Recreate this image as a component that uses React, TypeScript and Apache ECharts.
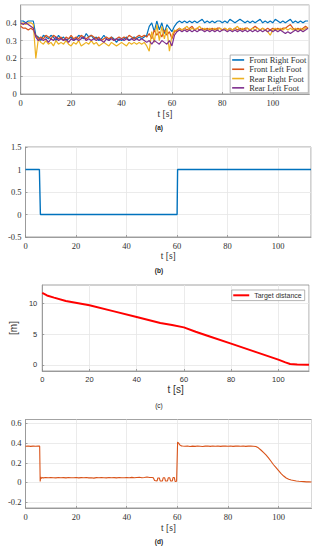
import React, { useEffect, useRef } from "react";
import * as echarts from "echarts";

// ---------- Panel (a): foot signals, sampled every second from t = 0 s ----------
const footStep = 1;
const footNames = ["Front Right Foot", "Front Left Foot", "Rear Right Foot", "Rear Left Foot"];
const frontRightFoot = [
  0.41, 0.41, 0.40, 0.41, 0.41, 0.41, 0.33,
  0.32, 0.30, 0.33, 0.32, 0.31, 0.33, 0.32, 0.30, 0.33, 0.31,
  0.32, 0.30, 0.31, 0.32, 0.30, 0.31, 0.33, 0.32, 0.31, 0.34,
  0.32, 0.33, 0.31, 0.32, 0.30, 0.31, 0.33, 0.31, 0.30, 0.32,
  0.31, 0.29, 0.31, 0.30, 0.31, 0.32, 0.30, 0.31, 0.32, 0.31,
  0.32, 0.31, 0.32,
  0.33, 0.38, 0.40, 0.35, 0.41, 0.36, 0.40, 0.34, 0.39, 0.37, 0.35,
  0.38, 0.40, 0.41,
  0.40, 0.41, 0.40, 0.41, 0.40, 0.41, 0.40, 0.41, 0.42, 0.40,
  0.41, 0.40, 0.41, 0.40, 0.41, 0.41, 0.40, 0.41, 0.40, 0.42,
  0.41, 0.40, 0.41, 0.42, 0.41, 0.40, 0.41, 0.40, 0.41, 0.40,
  0.41, 0.42, 0.40, 0.41, 0.40, 0.41, 0.40, 0.42, 0.41, 0.40,
  0.41, 0.40, 0.41, 0.42, 0.40, 0.41, 0.40, 0.41, 0.40, 0.41, 0.41,
];
const frontLeftFoot = [
  0.38, 0.37, 0.37, 0.36, 0.37, 0.36, 0.33,
  0.31, 0.32, 0.31, 0.33, 0.32, 0.31, 0.33, 0.32, 0.31, 0.32,
  0.30, 0.32, 0.31, 0.33, 0.31, 0.32, 0.31, 0.33, 0.32, 0.31,
  0.32, 0.33, 0.32, 0.31, 0.32, 0.30, 0.31, 0.32, 0.31, 0.32,
  0.30, 0.31, 0.32, 0.31, 0.32, 0.31, 0.33, 0.32, 0.31, 0.32,
  0.33, 0.32, 0.33,
  0.32, 0.34, 0.31, 0.36, 0.33, 0.35, 0.32, 0.36, 0.33, 0.35, 0.31,
  0.35, 0.36, 0.37,
  0.36, 0.37, 0.36, 0.37, 0.38, 0.36, 0.37, 0.36, 0.37, 0.36,
  0.37, 0.36, 0.37, 0.36, 0.37, 0.37, 0.36, 0.37, 0.36, 0.37,
  0.36, 0.37, 0.36, 0.37, 0.36, 0.37, 0.37, 0.36, 0.37, 0.38,
  0.37, 0.36, 0.37, 0.36, 0.37, 0.36, 0.37, 0.36, 0.37, 0.36,
  0.37, 0.37, 0.38, 0.39, 0.37, 0.36, 0.37, 0.36, 0.37, 0.38, 0.37,
];
const rearRightFoot = [
  0.39, 0.40, 0.39, 0.40, 0.40, 0.39, 0.20,
  0.31, 0.29, 0.28, 0.30, 0.28, 0.29, 0.27, 0.30, 0.28, 0.29,
  0.28, 0.30, 0.28, 0.27, 0.29, 0.28, 0.30, 0.27, 0.28, 0.29,
  0.28, 0.30, 0.28, 0.29, 0.27, 0.28, 0.29, 0.28, 0.27, 0.29,
  0.28, 0.27, 0.28, 0.29, 0.28, 0.27, 0.29, 0.28, 0.29, 0.28,
  0.29, 0.28, 0.29,
  0.27, 0.24, 0.35, 0.29, 0.39, 0.30, 0.38, 0.31, 0.37, 0.24, 0.33,
  0.36, 0.35, 0.37,
  0.36, 0.37, 0.38, 0.36, 0.37, 0.36, 0.37, 0.38, 0.36, 0.37,
  0.36, 0.37, 0.36, 0.37, 0.36, 0.37, 0.36, 0.37, 0.36, 0.37,
  0.36, 0.37, 0.38, 0.36, 0.37, 0.36, 0.37, 0.36, 0.37, 0.36,
  0.37, 0.36, 0.37, 0.36, 0.35, 0.33, 0.36, 0.37, 0.36, 0.37,
  0.36, 0.37, 0.36, 0.37, 0.36, 0.37, 0.36, 0.37, 0.36, 0.37, 0.37,
];
const rearLeftFoot = [
  0.40, 0.39, 0.40, 0.39, 0.38, 0.37, 0.32,
  0.30, 0.31, 0.30, 0.31, 0.29, 0.31, 0.30, 0.32, 0.30, 0.31,
  0.30, 0.31, 0.29, 0.31, 0.30, 0.31, 0.30, 0.31, 0.32, 0.30,
  0.31, 0.30, 0.31, 0.30, 0.31, 0.30, 0.29, 0.31, 0.30, 0.31,
  0.30, 0.31, 0.30, 0.31, 0.30, 0.31, 0.30, 0.31, 0.30, 0.31,
  0.30, 0.31, 0.30,
  0.29, 0.30, 0.28, 0.30, 0.29, 0.28, 0.30, 0.29, 0.28, 0.30, 0.27,
  0.33, 0.35, 0.36,
  0.35, 0.36, 0.35, 0.36, 0.35, 0.36, 0.35, 0.36, 0.36, 0.35,
  0.36, 0.35, 0.36, 0.35, 0.36, 0.35, 0.36, 0.36, 0.35, 0.36,
  0.35, 0.36, 0.35, 0.36, 0.35, 0.36, 0.35, 0.36, 0.35, 0.36,
  0.35, 0.36, 0.35, 0.36, 0.35, 0.36, 0.35, 0.36, 0.35, 0.36,
  0.35, 0.34, 0.35, 0.34, 0.35, 0.36, 0.35, 0.36, 0.35, 0.36, 0.37,
];

// ---------- Panel (b): binary state ----------
const stateTime = [0, 5.5, 5.9, 60, 60.2, 113];
const stateValue = [1, 1, 0, 0, 1, 1];

// ---------- Panel (c): target distance [m] ----------
const distTime = [0, 2, 5, 10, 20, 30, 40, 50, 55, 60, 65, 70, 80, 90, 100, 103, 105, 108, 113];
const distValue = [11.7, 11.3, 10.95, 10.4, 9.7, 8.75, 7.8, 6.8, 6.5, 6.1, 5.4, 4.75, 3.45, 2.15, 0.85, 0.4, 0.15, 0.05, 0.03];

// ---------- Panel (d) ----------
const dTime = [
  0, 1, 2, 3, 4, 5, 5.6, 5.8, 6.0, 6.3, 6.6, 7, 8, 9, 10, 11, 12, 13, 14, 15, 16, 17, 18, 19, 20,
  21, 22, 23, 24, 25, 26, 27, 28, 29, 30, 31, 32, 33, 34, 35, 36, 37, 38, 39, 40, 41, 42, 43, 44,
  45, 46, 47, 48, 49, 50, 50.5, 51, 52, 52.3, 52.9, 53.2, 54.1, 54.4, 55, 55.3, 56.1, 56.4, 57,
  57.3, 58, 58.3, 58.8, 59.1, 59.7, 60.1, 60.5, 61, 61.5, 62, 63, 64, 65, 66, 67, 68, 69, 70, 71,
  72, 73, 74, 75, 76, 77, 78, 79, 80, 81, 82, 83, 84, 85, 86, 87, 88, 89, 90, 91, 92, 93, 94, 95,
  96, 97, 98, 99, 100, 101, 102, 103, 104, 105, 106, 107, 108, 109, 110, 111, 112, 113,
];
const dValue = [
  0.368, 0.37, 0.367, 0.369, 0.368, 0.37, 0.369, 0.01, 0.055, 0.04, 0.05, 0.046, 0.05, 0.047, 0.05,
  0.048, 0.046, 0.05, 0.047, 0.049, 0.046, 0.05, 0.047, 0.048, 0.05,
  0.046, 0.049, 0.047, 0.05, 0.046, 0.048, 0.044, 0.049, 0.047, 0.05, 0.048, 0.046, 0.05, 0.047,
  0.049, 0.046, 0.05, 0.048, 0.047, 0.05, 0.048, 0.051, 0.047, 0.05,
  0.052, 0.048, 0.05, 0.055, 0.05, 0.05, 0.048, 0.02, 0.015, 0.045, 0.045, 0.015, 0.015, 0.047,
  0.047, 0.015, 0.015, 0.047, 0.047,
  0.015, 0.015, 0.05, 0.05, 0.01, 0.012, 0.41, 0.40, 0.38, 0.372, 0.37, 0.368, 0.37, 0.366, 0.369,
  0.367, 0.37, 0.368, 0.366, 0.369,
  0.37, 0.367, 0.37, 0.368, 0.371, 0.367, 0.369, 0.37, 0.368, 0.37, 0.367, 0.369, 0.371, 0.368,
  0.37, 0.367, 0.369, 0.37, 0.368, 0.365, 0.352, 0.33, 0.305, 0.28,
  0.25, 0.215, 0.18, 0.15, 0.12, 0.09, 0.065, 0.045, 0.033, 0.025, 0.02, 0.015, 0.012, 0.01, 0.008,
  0.006, 0.007, 0.005,
];

const SERIF = "'Liberation Serif', 'Times New Roman', serif";
const SANS = "'Liberation Sans', Arial, sans-serif";
const BOX = "#8c8c8c";
const GRIDC = "#e6e6e6";
const TXT = "#303030";

function xAxisCfg(gridIndex: number, max: number, font: string, size: number, nameSize: number, nameGap: number) {
  return {
    type: "value",
    gridIndex,
    min: 0,
    max,
    interval: 20,
    name: "t [s]",
    nameLocation: "middle",
    nameGap,
    nameTextStyle: { fontFamily: font, fontSize: nameSize, color: TXT },
    axisLine: { show: true, onZero: false, lineStyle: { color: BOX, width: 0.8 } },
    axisTick: { show: true, inside: true, length: 2, lineStyle: { color: BOX, width: 0.8 } },
    axisLabel: { fontFamily: font, fontSize: size, color: TXT, margin: 4, showMaxLabel: false },
    splitLine: { show: true, lineStyle: { color: GRIDC, width: 0.8 } },
  };
}

export default function App() {
  const ref = useRef<HTMLDivElement>(null);
  useEffect(() => {
    if (!ref.current) return;
    const chart = echarts.init(ref.current, undefined, { renderer: "svg" });
    const footData = [frontRightFoot, frontLeftFoot, rearRightFoot, rearLeftFoot];
    const footColors = ["#0072BD", "#D95319", "#EDB120", "#7E2F8E"];
    const ySerif = (size: number) => ({ fontFamily: SERIF, fontSize: size, color: TXT, margin: 4 });
    const yLine = { show: true, lineStyle: { color: BOX, width: 0.8 } };
    const yTick = { show: true, inside: true, length: 2, lineStyle: { color: BOX, width: 0.8 } };
    const ySplit = { show: true, lineStyle: { color: GRIDC, width: 0.8 } };

    chart.setOption({
      animation: false,
      backgroundColor: "#ffffff",
      grid: [
        { left: 20.7, top: 5, width: 288.6, height: 89, show: true, borderColor: BOX, borderWidth: 0.8 },
        { left: 25.5, top: 147, width: 285.5, height: 90, show: true, borderColor: BOX, borderWidth: 0.8 },
        { left: 31.7, top: 285, width: 277.3, height: 86, show: true, borderColor: BOX, borderWidth: 0.8 },
        { left: 25.5, top: 419.5, width: 286, height: 88.5, show: true, borderColor: BOX, borderWidth: 0.8 },
      ],
      xAxis: [
        xAxisCfg(0, 114.5, SERIF, 8.5, 9.5, 15),
        xAxisCfg(1, 113, SERIF, 8.5, 9.5, 12),
        xAxisCfg(2, 113, SANS, 7.5, 10, 13.5),
        xAxisCfg(3, 113, SERIF, 8.5, 9.5, 14.5),
      ],
      yAxis: [
        {
          type: "value", gridIndex: 0, min: 0, max: 0.5, interval: 0.1,
          axisLine: yLine, axisTick: yTick, splitLine: ySplit,
          axisLabel: { ...ySerif(8.5), showMaxLabel: false },
        },
        {
          type: "value", gridIndex: 1, min: -0.5, max: 1.5, interval: 0.5,
          axisLine: yLine, axisTick: yTick, splitLine: ySplit,
          axisLabel: ySerif(8.5),
        },
        {
          type: "value", gridIndex: 2, min: -1, max: 13,
          name: "[m]", nameLocation: "middle", nameGap: 16.5, nameRotate: 90,
          nameTextStyle: { fontFamily: SANS, fontSize: 10, color: TXT },
          axisLine: yLine,
          axisTick: { ...yTick, customValues: [0, 5, 10] },
          splitLine: ySplit,
          axisLabel: { fontFamily: SANS, fontSize: 7.5, color: TXT, margin: 5, customValues: [0, 5, 10] },
        },
        {
          type: "value", gridIndex: 3, min: -0.26, max: 0.64,
          axisLine: yLine,
          axisTick: { ...yTick, customValues: [-0.2, 0, 0.2, 0.4, 0.6] },
          splitLine: ySplit,
          axisLabel: { ...ySerif(8.5), customValues: [-0.2, 0, 0.2, 0.4, 0.6] },
        },
      ],
      legend: [
        {
          orient: "vertical",
          right: 9.7,
          top: 55,
          data: footNames,
          icon: "rect",
          itemWidth: 12,
          itemHeight: 1.6,
          itemGap: 0,
          padding: [0.3, 2, 0.3, 2],
          backgroundColor: "#ffffff",
          borderColor: "#a0a0a0",
          borderWidth: 0.8,
          selectedMode: false,
          textStyle: { fontFamily: SERIF, fontSize: 8.5, color: TXT, lineHeight: 9.3 },
        },
        {
          orient: "vertical",
          right: 13.3,
          top: 290,
          data: ["Target distance"],
          icon: "rect",
          itemWidth: 16,
          itemHeight: 2,
          padding: [1.3, 3, 1.3, 1.5],
          backgroundColor: "#ffffff",
          borderColor: "#a0a0a0",
          borderWidth: 0.8,
          selectedMode: false,
          textStyle: { fontFamily: SANS, fontSize: 7, color: TXT, lineHeight: 8 },
        },
      ],
      series: [
        ...footData.map((arr, k) => ({
          type: "line",
          name: footNames[k],
          xAxisIndex: 0,
          yAxisIndex: 0,
          symbol: "none",
          color: footColors[k],
          lineStyle: { color: footColors[k], width: 1.2 },
          data: arr.map((v, i) => [i * footStep, v]),
        })),
        {
          type: "line",
          name: "state",
          xAxisIndex: 1,
          yAxisIndex: 1,
          symbol: "none",
          color: "#0072BD",
          lineStyle: { color: "#0072BD", width: 1.4 },
          data: stateTime.map((t, i) => [t, stateValue[i]]),
        },
        {
          type: "line",
          name: "Target distance",
          xAxisIndex: 2,
          yAxisIndex: 2,
          symbol: "none",
          color: "#FF0000",
          lineStyle: { color: "#FF0000", width: 2 },
          data: distTime.map((t, i) => [t, distValue[i]]),
        },
        {
          type: "line",
          name: "d",
          xAxisIndex: 3,
          yAxisIndex: 3,
          symbol: "none",
          color: "#D95319",
          lineStyle: { color: "#D95319", width: 1.1 },
          data: dTime.map((t, i) => [t, dValue[i]]),
        },
      ],
      graphic: [
        { type: "text", left: "center", top: 124, style: { text: "(a)", fontFamily: SANS, fontSize: 6.5, fontWeight: "bold", fill: "#222" } },
        { type: "text", left: "center", top: 267, style: { text: "(b)", fontFamily: SANS, fontSize: 6.5, fontWeight: "bold", fill: "#222" } },
        { type: "text", left: "center", top: 402, style: { text: "(c)", fontFamily: SANS, fontSize: 6.5, fill: "#222" } },
        { type: "text", left: "center", top: 538, style: { text: "(d)", fontFamily: SANS, fontSize: 6.5, fontWeight: "bold", fill: "#222" } },
      ],
    });
    return () => chart.dispose();
  }, []);
  return <div ref={ref} style={{ position: "fixed", left: 0, top: 0, width: 318, height: 550 }} />;
}
